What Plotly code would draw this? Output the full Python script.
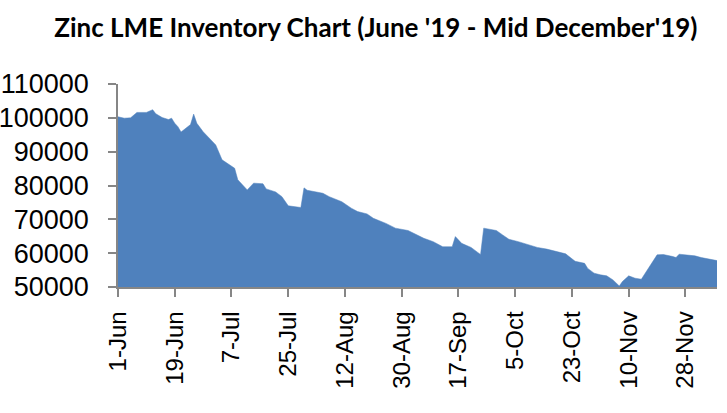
import plotly.graph_objects as go

dates = ["2019-06-01","2019-06-03","2019-06-05","2019-06-07","2019-06-10","2019-06-12","2019-06-13",
         "2019-06-15","2019-06-17","2019-06-18","2019-06-19","2019-06-20","2019-06-21","2019-06-23",
         "2019-06-24","2019-06-25","2019-06-26","2019-06-28","2019-06-30","2019-07-02","2019-07-04",
         "2019-07-07","2019-07-08","2019-07-09","2019-07-11","2019-07-12","2019-07-14","2019-07-17",
         "2019-07-18","2019-07-21","2019-07-23","2019-07-24","2019-07-25","2019-07-29","2019-07-30",
         "2019-07-31","2019-08-05","2019-08-07","2019-08-09","2019-08-11","2019-08-14","2019-08-16",
         "2019-08-19","2019-08-21","2019-08-25","2019-08-28","2019-09-01","2019-09-04","2019-09-06",
         "2019-09-09","2019-09-12","2019-09-15","2019-09-16","2019-09-18","2019-09-21","2019-09-23",
         "2019-09-24","2019-09-25","2019-09-29","2019-10-01","2019-10-03","2019-10-06","2019-10-09",
         "2019-10-12","2019-10-15","2019-10-18","2019-10-21","2019-10-24","2019-10-27","2019-10-28",
         "2019-10-30","2019-11-01","2019-11-03","2019-11-05","2019-11-07","2019-11-08","2019-11-10",
         "2019-11-12","2019-11-14","2019-11-19","2019-11-21","2019-11-24","2019-11-25","2019-11-26",
         "2019-12-01","2019-12-03","2019-12-06","2019-12-08"]
inventory = [100300, 99900, 100000, 101600, 101600, 102400, 101200,
             100100, 99500, 99900, 98400, 97400, 95800, 97300,
             98000, 101100, 98400, 95900, 94000, 92000, 87600,
             85900, 85100, 81700, 79500, 78700, 80700, 80500,
             79000, 78100, 76700, 75200, 74000, 73500, 79300,
             78600, 77700, 76700, 75900, 75200, 73300, 72300,
             71600, 70300, 68800, 67400, 66700, 65400, 64400,
             63400, 61900, 61900, 64900, 62900, 61700, 60300,
             59600, 67400, 66700, 65400, 64100, 63400, 62600,
             61700, 61200, 60400, 59800, 57600, 57000, 55500,
             54100, 53600, 53300, 52100, 50300, 51600, 53300,
             52600, 52300, 59500, 59600, 59000, 58700, 59700,
             59200, 58700, 58200, 57800]

tick_dates = ["2019-06-01","2019-06-19","2019-07-07","2019-07-25","2019-08-12","2019-08-30",
              "2019-09-17","2019-10-05","2019-10-23","2019-11-10","2019-11-28"]
tick_labels = ["1-Jun","19-Jun","7-Jul","25-Jul","12-Aug","30-Aug",
               "17-Sep","5-Oct","23-Oct","10-Nov","28-Nov"]
y_ticks = [50000, 60000, 70000, 80000, 90000, 100000, 110000]
y_labels = ["50000", "60000", "70000", "80000", "90000", "100000", "110000"]

fig = go.Figure(go.Scatter(
    x=dates, y=inventory, mode="lines", fill="tozeroy",
    line=dict(color="#4f81bd", width=0.5), fillcolor="#4f81bd",
    hoverinfo="x+y"))

fig.update_layout(
    width=727, height=413,
    paper_bgcolor="white", plot_bgcolor="white",
    margin=dict(l=118, r=10, t=84, b=126),
    title=dict(text="<b>Zinc LME Inventory Chart (June '19 - Mid December'19)</b>",
               x=0.517, xanchor="center", y=0.932, yanchor="middle",
               font=dict(family="Lato", size=26, color="black")),
    showlegend=False,
    font=dict(family="Liberation Sans", color="black"),
)
fig.update_xaxes(
    type="date", range=["2019-06-01", "2019-12-08"], automargin=False,
    tickvals=tick_dates, ticktext=tick_labels, tickangle=-90,
    ticks="outside", ticklen=8, tickcolor="#868686", tickwidth=1.5,
    ticklabelstandoff=5,
    showline=True, linecolor="#868686", linewidth=1.5,
    showgrid=False, zeroline=False,
    tickfont=dict(size=24, color="black"))
fig.update_yaxes(
    range=[50000, 110000], tickvals=y_ticks, ticktext=y_labels, automargin=False,
    ticks="outside", ticklen=8, tickcolor="#868686", tickwidth=1.5,
    ticklabelstandoff=14,
    showline=True, linecolor="#868686", linewidth=1.5,
    showgrid=False, zeroline=False,
    tickfont=dict(size=27, color="black"))

fig.write_html("out.html", config={"displayModeBar": False},
               post_script="document.body.style.margin='0px';document.body.style.overflow='hidden';")
